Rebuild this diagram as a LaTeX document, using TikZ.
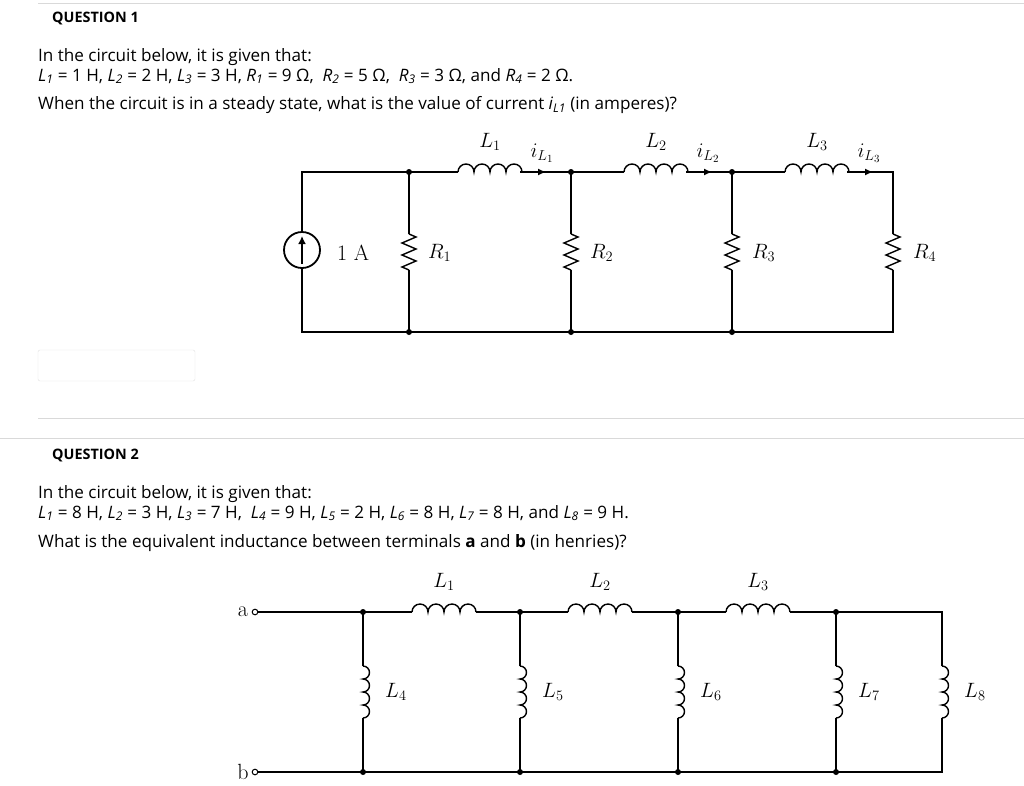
\documentclass[tikz,border=0pt]{standalone}
\usepackage{fontspec}
\newfontfamily\ui{Open Sans}
\usetikzlibrary{arrows.meta}
\tikzset{
 wire/.style={line width=1.4pt},
 dot/.style={circle,fill,inner sep=0pt,minimum size=6pt},
 txt/.style={anchor=west,inner sep=0pt,font=\ui\fontsize{17.1}{19}\selectfont},
 head/.style={anchor=west,inner sep=0pt,font=\ui\bfseries\fontsize{14.4}{16}\selectfont},
 lab/.style={inner sep=0pt,font=\fontsize{22}{24}\selectfont},
 sep/.style={draw=black!15,line width=0.8pt},
 pics/hind/.style={code={\draw[wire] (0,0) arc(180:0:8) arc(180:0:8) arc(180:0:8) arc(180:0:8);}},
 pics/vind/.style={code={\draw[wire] (0,0) arc(90:-90:6.5) arc(90:-90:6.5) arc(90:-90:6.5) arc(90:-90:6.5);}},
 pics/res/.style={code={\draw[wire] (0,0) -- (7,-3) -- (-7,-9) -- (7,-15) -- (-7,-21) -- (7,-27) -- (-7,-33) -- (0,-36);}}
}
\begin{document}
\begin{tikzpicture}[x=1pt,y=1pt]
\useasboundingbox (0,0) rectangle (1024,-785);
\draw[sep] (38,-3) -- (1024,-3);
\draw[sep] (38,-418) -- (1024,-418);
\draw[sep] (0,-438) -- (1024,-438);
\draw[draw=black!12,rounded corners=2pt] (38,-350) rectangle (195,-381);
\node[head] (h1) at (52,-18) {QUESTION 1};
\node[txt] (t1) at (38,-57) {In the circuit below, it is given that:};
\node[txt] (t2) at (38,-76) {\textit{L\textsubscript{1}} = 1 H, \textit{L\textsubscript{2}} = 2 H, \textit{L\textsubscript{3}} = 3 H, \textit{R\textsubscript{1}} = 9 Ω,\ \ \textit{R\textsubscript{2}} = 5 Ω,\ \ \textit{R\textsubscript{3}} = 3 Ω, and \textit{R\textsubscript{4}} = 2 Ω.};
\node[txt] (t3) at (38,-105) {When the circuit is in a steady state, what is the value of current \textit{i\textsubscript{L1}} (in amperes)?};
\node[head] (h2) at (52,-455) {QUESTION 2};
\node[txt] (t4) at (38,-494) {In the circuit below, it is given that:};
\node[txt] (t5) at (38,-513) {\textit{L\textsubscript{1}} = 8 H, \textit{L\textsubscript{2}} = 3 H, \textit{L\textsubscript{3}} = 7 H,\ \ \textit{L\textsubscript{4}} = 9 H, \textit{L\textsubscript{5}} = 2 H, \textit{L\textsubscript{6}} = 8 H, \textit{L\textsubscript{7}} = 8 H, and \textit{L\textsubscript{8}} = 9 H.};
\node[txt] (t6) at (38,-543) {What is the equivalent inductance between terminals \textbf{a} and \textbf{b} (in henries)?};

% ---- circuit 1
\begin{scope}[wire]
\draw (302,-232) -- (302,-172) -- (458,-172);
\draw (522,-172) -- (624,-172);
\draw (688,-172) -- (785,-172);
\draw (849,-172) -- (893,-172) -- (893,-234);
\draw (302,-268) -- (302,-332) -- (893,-332) -- (893,-270);
\foreach \x in {409,571,732}{
 \draw (\x,-172) -- (\x,-234); \draw (\x,-270) -- (\x,-332);
 \node[dot] at (\x,-172) {}; \node[dot] at (\x,-332) {};}
\end{scope}
\foreach \x in {409,571,732,893} \pic at (\x,-234) {res};
\foreach \x in {458,624,785} \pic at (\x,-172) {hind};
\draw[line width=1.8pt] (302,-250) circle (18);
\draw[line width=2.2pt,-{Latex[length=8pt,width=8pt]}] (302,-264) -- (302,-236);
\node[lab] (s1) at (353,-253) {1 A};
\node[lab,anchor=west] (r1) at (428,-253) {$R_1$};
\node[lab,anchor=west] (r2) at (590,-253) {$R_2$};
\node[lab,anchor=west] (r3) at (752,-253) {$R_3$};
\node[lab,anchor=west] (r4) at (913,-253) {$R_4$};
\foreach \x/\n in {490/1,656/2,817/3}{
 \node[lab] at (\x,-142) {$L_{\n}$};
 \draw[wire,-{Latex[length=8pt,width=7pt]}] (\x+30,-172) -- (\x+56,-172);
 \node[lab] at (\x+52,-153) {$i_{L_{\n}}$};}

% ---- circuit 2
\node[lab] (a) at (243,-612) {a};
\node[lab] (b) at (243,-772) {b};
\begin{scope}[wire]
\draw (257,-612) -- (412,-612);
\draw (476,-612) -- (568,-612);
\draw (632,-612) -- (726,-612);
\draw (790,-612) -- (942,-612) -- (942,-666);
\draw (257,-772) -- (942,-772) -- (942,-718);
\foreach \x in {363,520,678,836}{
 \draw (\x,-612) -- (\x,-666); \draw (\x,-718) -- (\x,-772);
 \node[dot] at (\x,-612) {}; \node[dot] at (\x,-772) {};}
\end{scope}
\draw[fill=white,line width=1pt] (255,-612) circle (2.8);
\draw[fill=white,line width=1pt] (255,-772) circle (2.8);
\foreach \x in {363,520,678,836,942} \pic at (\x,-666) {vind};
\foreach \x in {412,568,726} \pic at (\x,-612) {hind};
\foreach \x/\n in {444/1,600/2,758/3} \node[lab] at (\x,-582) {$L_{\n}$};
\foreach \x/\n in {363/4,520/5,678/6,836/7,942/8} \node[lab,anchor=west] at (\x+22,-692) {$L_{\n}$};
\end{tikzpicture}
\end{document}
